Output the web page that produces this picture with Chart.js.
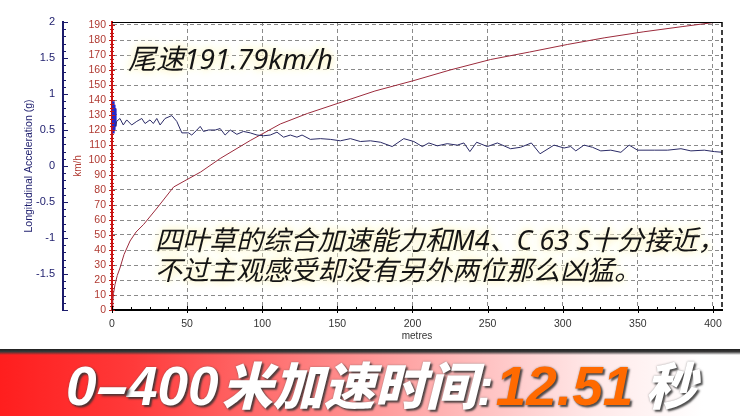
<!DOCTYPE html>
<html><head><meta charset="utf-8">
<script src="https://cdn.jsdelivr.net/npm/chart.js@4.4.0/dist/chart.umd.min.js"></script>
<style>
html,body{margin:0;padding:0;background:#fff;}
#wrap{position:relative;width:740px;height:416px;overflow:hidden;background:#fff;}
#cv{position:absolute;left:0;top:0;}
.note{position:absolute;font-family:"Noto Sans","Noto Sans CJK SC",sans-serif;font-style:italic;color:#151515;white-space:nowrap;
 text-shadow:0 0 3px #fffbe2,0 0 6px #fff8d6,0 0 9px #fff6cc,0 0 12px #fff6cc;}
#n1{left:128px;top:44px;font-size:28px;line-height:28px;}
#n2{left:155px;top:225px;font-size:27px;line-height:30px;}
#banner{position:absolute;left:0;top:349px;width:740px;height:67px;
 background:linear-gradient(90deg,#ff1e1e 0%,#ff3a3a 18%,#ff7a7a 40%,#ffb8b8 62%,#ffe8e8 80%,#ffffff 95%);}
#banner .bar{position:absolute;left:0;top:0;width:100%;height:6px;background:linear-gradient(180deg,#1e1e1e 0%,#3a3a3a 45%,rgba(90,90,90,0) 100%);}
#btext{position:absolute;left:66px;top:12px;font-family:"Liberation Sans","Noto Sans CJK SC",sans-serif;font-weight:900;font-style:italic;
 font-size:51px;line-height:50px;white-space:nowrap;color:#fff;text-shadow:2px 2px 2px rgba(50,50,50,.85),0 0 2px rgba(80,80,80,.6);}
#btext .d{font-size:55px;}
#btext .h{display:inline-block;transform:scaleX(1.9);padding:0 6px;}
#btext .c{margin-left:3px;}
#btext .o{color:#ff6a00;margin-left:2px;}
#btext .s{margin-left:12px;}
</style></head><body>
<div id="wrap">
<canvas id="cv" width="740" height="350"></canvas>
<div class="note" id="n1">尾速191.79km/h</div>
<div class="note" id="n2">四叶草的综合加速能力和M4、C 63 S十分接近，<br>不过主观感受却没有另外两位那么凶猛。</div>
<div id="banner"><div class="bar"></div><div id="btext"><span class="d">0<span class="h">-</span>400</span><span class="c">米加速时间:</span><span class="d o">12.51</span><span class="s">秒</span></div></div>
</div>
<script>
// ---- data ----
const xTicks = [0,50,100,150,200,250,300,350,400];
const speedTicks = [0,10,20,30,40,50,60,70,80,90,100,110,120,130,140,150,160,170,180,190];
const accTicks = [2,1.5,1,0.5,0,-0.5,-1,-1.5];

const speedDist = [0,0.5,1,2,3.5,5.3,8,12,16,21,30,41,50,59,72,92,112,130,151,175,201,225,252,278,303,328,354,380,403,406];
const speedKmh  = [0,6,11,17,23,28,37,46,52,57,68,82,87,92,101,113,124,131,138,146,153,160,167,172,177,181.5,185.5,189,192,192.3];

const accDist = [0.5,0.8,1.1,1.4,1.7,2.0,2.4,3.1,5.3,7.5,9.8,13.1,16.5,19.8,22,25.3,27.5,29.8,32,35.3,39.8,43.1,46.5,50.9,53.1,56.5,58.7,60.9,64.2,68.7,72,75.3,78.7,83.1,87.5,92,96.5,100.9,105.3,109.8,114.2,118.7,123.1,126.5,132,138.7,145.3,152,158.7,165.3,172,178.7,186.5,194.2,200.9,206.5,210.9,216.5,223.1,229.8,234.2,238.2,242.7,249.8,256.5,265.3,272,279.1,284.9,294.2,300.9,305.3,308.7,314.2,319.8,325.3,332,338.7,344.2,349.8,360.9,369.8,378.7,385.3,394.2,400.9,406.5];
const accG    = [0.55,0.9,0.45,0.85,0.5,0.8,0.55,0.62,0.66,0.57,0.64,0.57,0.62,0.66,0.59,0.64,0.59,0.66,0.57,0.66,0.70,0.62,0.46,0.46,0.43,0.50,0.55,0.48,0.50,0.50,0.52,0.43,0.50,0.44,0.48,0.46,0.43,0.42,0.43,0.47,0.40,0.43,0.40,0.43,0.37,0.38,0.37,0.35,0.38,0.34,0.35,0.33,0.27,0.38,0.34,0.27,0.32,0.28,0.31,0.29,0.32,0.20,0.33,0.27,0.32,0.24,0.26,0.32,0.17,0.29,0.25,0.27,0.21,0.29,0.26,0.21,0.22,0.19,0.29,0.22,0.22,0.22,0.24,0.21,0.22,0.20,0.19];

Chart.defaults.font.family = '"Liberation Sans", Arial, sans-serif';

const decor = {
  id: 'decor',
  afterDraw(chart) {
    const {ctx, chartArea: a, scales} = chart;
    const yA = scales.yAcc, yS = scales.ySpeed, x = scales.x;
    ctx.save();
    ctx.strokeStyle = '#000'; ctx.lineWidth = 1;
    ctx.beginPath(); ctx.moveTo(a.left, Math.round(a.top) + 0.5); ctx.lineTo(a.right, Math.round(a.top) + 0.5); ctx.stroke();
    ctx.setLineDash([5, 3]); ctx.lineWidth = 1.5;
    ctx.beginPath(); ctx.moveTo(a.right, a.top); ctx.lineTo(a.right, a.bottom); ctx.stroke();
    ctx.setLineDash([]);
    ctx.strokeStyle = '#1c1c6c'; ctx.lineWidth = 1;
    for (let i = -20; i <= 20; i++) {
      const p = Math.round(yA.getPixelForValue(i / 10)) + 0.5;
      const major = i % 5 === 0;
      ctx.beginPath(); ctx.moveTo(yA.right, p); ctx.lineTo(yA.right + (major ? 5 : 3), p); ctx.stroke();
    }
    ctx.strokeStyle = '#c01818';
    for (let i = 0; i <= 76; i++) {
      const v = i * 2.5; if (v > yS.max) break;
      const p = Math.round(yS.getPixelForValue(v)) + 0.5;
      const major = i % 4 === 0;
      ctx.beginPath(); ctx.moveTo(yS.right - (major ? 3 : 2), p); ctx.lineTo(yS.right + (major ? 3 : 2), p); ctx.stroke();
    }
    ctx.strokeStyle = '#000';
    for (let i = 0; i <= 32; i++) {
      const v = i * 12.5;
      const p = Math.round(x.getPixelForValue(v)) + 0.5;
      const major = i % 4 === 0;
      ctx.beginPath(); ctx.moveTo(p, x.top - (major ? 4 : 3)); ctx.lineTo(p, x.top + (major ? 3 : 1)); ctx.stroke();
    }
    ctx.restore();
  }
};

new Chart(document.getElementById('cv'), {
  type: 'line',
  data: {
    datasets: [
      {
        label: 'Longitudinal Acceleration',
        data: accDist.map((d, i) => ({x: d, y: accG[i]})),
        yAxisID: 'yAcc', xAxisID: 'x',
        borderColor: '#2a2a66', borderWidth: 1, pointRadius: 0, tension: 0,
        segment: {
          borderColor: c => c.p0.parsed.x < 2.4 ? '#2626c8' : '#2a2a66',
          borderWidth: c => c.p0.parsed.x < 2.4 ? 2 : 1
        }
      },
      {
        label: 'km/h',
        data: speedDist.map((d, i) => ({x: d, y: speedKmh[i]})),
        yAxisID: 'ySpeed', xAxisID: 'x',
        borderColor: '#9c2b3c', borderWidth: 1, pointRadius: 0, tension: 0
      }
    ]
  },
  options: {
    responsive: false, animation: false, devicePixelRatio: 1,
    layout: {padding: {left: 0, right: 18, top: 22, bottom: 0}},
    plugins: {legend: {display: false}, tooltip: {enabled: false}},
    scales: {
      x: {
        type: 'linear', position: 'bottom', min: 0, max: 406,
        afterBuildTicks: s => { s.ticks = xTicks.map(v => ({value: v})); },
        afterFit: s => { s.height = 40; },
        grid: {color: '#8a8a8a', lineWidth: 1, drawTicks: false},
        border: {color: '#000', width: 2, dash: [4, 3]},
        ticks: {padding: 8, color: '#333', font: {size: 10.5}, maxRotation: 0, autoSkip: false, callback: v => String(v)},
        title: {display: true, text: 'metres', color: '#333', font: {size: 10}, padding: {top: 0, bottom: 8}}
      },
      yAcc: {
        type: 'linear', position: 'left', min: -2, max: 2, weight: 1,
        afterBuildTicks: s => { s.ticks = accTicks.map(v => ({value: v})); },
        afterFit: s => { s.width = 63; },
        grid: {drawOnChartArea: false, drawTicks: false},
        border: {color: '#1c1c6c', width: 2},
        ticks: {padding: 8, color: '#1c1c6c', font: {size: 11}, autoSkip: false, callback: v => String(v)},
        title: {display: true, text: 'Longitudinal Acceleration (g)', color: '#1c1c6c', font: {size: 10.5}, padding: {top: 23, bottom: 0}}
      },
      ySpeed: {
        type: 'linear', position: 'left', min: 0, max: 192, weight: 0,
        afterBuildTicks: s => { s.ticks = speedTicks.map(v => ({value: v})); },
        afterFit: s => { s.width = 49; },
        grid: {color: '#8a8a8a', lineWidth: 1, drawTicks: false},
        border: {color: '#d01010', width: 2, dash: [4, 3]},
        ticks: {padding: 6, color: '#b03a32', font: {size: 10.5}, autoSkip: false, callback: v => String(v)},
        title: {display: true, text: 'km/h', color: '#b03a32', font: {size: 10}, padding: {top: 9, bottom: 0}}
      }
    }
  },
  plugins: [decor]
});
</script>
</body></html>
